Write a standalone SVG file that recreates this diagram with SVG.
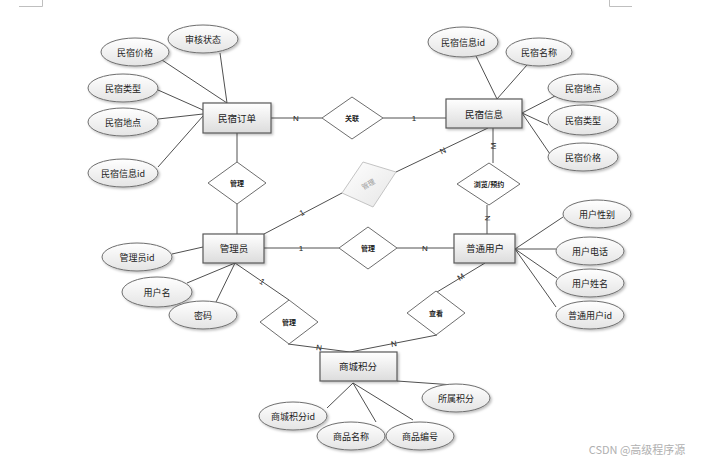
<svg xmlns="http://www.w3.org/2000/svg" width="704" height="463" viewBox="0 0 704 463">
<defs>
<linearGradient id="gE" x1="0" y1="0" x2="0" y2="1"><stop offset="0" stop-color="#ffffff"/><stop offset="1" stop-color="#e4e4e4"/></linearGradient>
<linearGradient id="gR" x1="0" y1="0" x2="0" y2="1"><stop offset="0" stop-color="#ffffff"/><stop offset="1" stop-color="#dcdcdc"/></linearGradient>
<linearGradient id="gD" x1="0" y1="0" x2="1" y2="1"><stop offset="0" stop-color="#ffffff"/><stop offset="1" stop-color="#e6e6e6"/></linearGradient>
<filter id="sh" x="-20%" y="-20%" width="150%" height="160%"><feDropShadow dx="1.5" dy="1.5" stdDeviation="0.8" flood-color="#000" flood-opacity="0.25"/></filter>
</defs>
<style>
.e{fill:url(#gE);stroke:#6e6e6e;stroke-width:1;filter:url(#sh)}
.r{fill:url(#gR);stroke:#595959;stroke-width:1.2;filter:url(#sh)}
.d{fill:#ffffff;stroke:#6e6e6e;stroke-width:1}
.l{stroke:#505050;stroke-width:1;fill:none}
text{font-family:"Noto Sans CJK SC","Liberation Sans",sans-serif;fill:#222;text-anchor:middle;dominant-baseline:central}
.t{font-size:9px}
.te{font-size:9.5px}
.td{font-size:7px;font-weight:bold}
.c{font-family:"Liberation Sans",sans-serif;font-size:8px}
.m{stroke:#bfbfbf;stroke-width:1;fill:none}
</style>
<rect width="704" height="463" fill="#ffffff"/>
<path class="m" d="M19 6.5H42.5V0M609.5 0V6.5H632"/>
<g id="connectors">
<line class="l" x1="271" y1="118" x2="322" y2="118"/>
<line class="l" x1="383" y1="118" x2="446" y2="118"/>
<line class="l" x1="237" y1="133" x2="237" y2="162"/>
<line class="l" x1="237" y1="204" x2="237" y2="234"/>
<line class="l" x1="264" y1="234" x2="342" y2="193"/>
<line class="l" x1="396" y1="172" x2="488" y2="128"/>
<line class="l" x1="264" y1="248" x2="339" y2="248"/>
<line class="l" x1="397" y1="248" x2="454" y2="248"/>
<line class="l" x1="493" y1="128" x2="493" y2="163"/>
<line class="l" x1="487" y1="205" x2="487" y2="234"/>
<line class="l" x1="235" y1="263" x2="289" y2="300"/>
<line class="l" x1="288" y1="344" x2="350" y2="352"/>
<line class="l" x1="485" y1="263" x2="437" y2="292"/>
<line class="l" x1="437" y1="335" x2="350" y2="352"/>
<line class="l" x1="220" y1="53" x2="227" y2="103"/>
<line class="l" x1="162" y1="60" x2="227" y2="103"/>
<line class="l" x1="158" y1="90" x2="203" y2="110"/>
<line class="l" x1="158" y1="119" x2="203" y2="114"/>
<line class="l" x1="158" y1="167" x2="203" y2="116"/>
<line class="l" x1="476" y1="56" x2="497" y2="99"/>
<line class="l" x1="527" y1="65" x2="497" y2="99"/>
<line class="l" x1="557" y1="95" x2="522" y2="113"/>
<line class="l" x1="548" y1="125" x2="522" y2="113"/>
<line class="l" x1="550" y1="154" x2="522" y2="113"/>
<line class="l" x1="172" y1="254" x2="203" y2="247"/>
<line class="l" x1="187" y1="283" x2="235" y2="263"/>
<line class="l" x1="216" y1="302" x2="235" y2="263"/>
<line class="l" x1="563" y1="217" x2="515" y2="249"/>
<line class="l" x1="556" y1="249" x2="515" y2="249"/>
<line class="l" x1="557" y1="278" x2="515" y2="249"/>
<line class="l" x1="556" y1="307" x2="515" y2="249"/>
<line class="l" x1="327" y1="408" x2="353" y2="383"/>
<line class="l" x1="376" y1="422" x2="353" y2="383"/>
<line class="l" x1="413" y1="420" x2="353" y2="383"/>
<line class="l" x1="397" y1="381" x2="468" y2="386"/>
<text class="c" x="296" y="118">N</text>
<text class="c" x="414" y="118">1</text>
<text class="c" x="302" y="213" transform="rotate(-28 302 213)">1</text>
<text class="c" x="443" y="151" transform="rotate(-26 443 151)">N</text>
<text class="c" x="301" y="248">1</text>
<text class="c" x="425" y="248">N</text>
<text class="c" x="493" y="146" transform="rotate(-90 493 146)">M</text>
<text class="c" x="487" y="218" transform="rotate(-90 487 218)">N</text>
<text class="c" x="262" y="282" transform="rotate(34 262 282)">1</text>
<text class="c" x="319" y="348" transform="rotate(8 319 348)">N</text>
<text class="c" x="394" y="344" transform="rotate(-10 394 344)">N</text>
<text class="c" x="461" y="277" transform="rotate(-32 461 277)">M</text>
</g>
<g id="e-order"><rect class="r" x="203" y="103" width="68" height="30"/><text class="te" x="237" y="118">民宿订单</text></g>
<g id="e-info"><rect class="r" x="446" y="99" width="76" height="29"/><text class="te" x="484" y="114">民宿信息</text></g>
<g id="e-admin"><rect class="r" x="203" y="234" width="61" height="29"/><text class="te" x="234" y="248">管理员</text></g>
<g id="e-user"><rect class="r" x="454" y="234" width="61" height="29"/><text class="te" x="485" y="248">普通用户</text></g>
<g id="e-points"><rect class="r" x="320" y="352" width="77" height="29"/><text class="te" x="358" y="366">商城积分</text></g>
<g id="r-guanlian"><path class="d" d="M322 118L352 97L383 118L352 139Z"/><text class="td" x="352" y="118">关联</text></g>
<g id="r-manage1"><path class="d" d="M208 183L237 162L266 183L237 204Z"/><text class="td" x="237" y="183">管理</text></g>
<g id="r-manage2"><path d="M342 193L363 162L396 172L373 207Z" fill="url(#gD)" stroke="#c4c4c4" stroke-width="1"/><text x="368" y="184" font-size="7px" fill="#9a9a9a" style="fill:#9a9a9a" transform="rotate(-30 368 184)">管理</text></g>
<g id="r-browse"><path class="d" d="M457 184L489 163L520 184L489 205Z"/><text class="td" x="489" y="184">浏览/预约</text></g>
<g id="r-manage3"><path class="d" d="M339 248L368 227L397 248L368 269Z"/><text class="td" x="368" y="248">管理</text></g>
<g id="r-manage4"><path class="d" d="M260 322L289 300L318 322L289 344Z"/><text class="td" x="289" y="322">管理</text></g>
<g id="r-view"><path class="d" d="M407 313L436 291L465 313L436 335Z"/><text class="td" x="436" y="313">查看</text></g>
<g id="a-shenhe"><ellipse class="e" cx="203" cy="39" rx="35" ry="14"/><text class="t" x="203" y="39">审核状态</text></g>
<g id="a-o-price"><ellipse class="e" cx="135" cy="52" rx="34" ry="14"/><text class="t" x="135" y="52">民宿价格</text></g>
<g id="a-o-type"><ellipse class="e" cx="123" cy="88" rx="35" ry="14"/><text class="t" x="123" y="88">民宿类型</text></g>
<g id="a-o-loc"><ellipse class="e" cx="123" cy="122" rx="35" ry="14"/><text class="t" x="123" y="122">民宿地点</text></g>
<g id="a-o-id"><ellipse class="e" cx="123" cy="173" rx="35" ry="14"/><text class="t" x="123" y="173">民宿信息id</text></g>
<g id="a-i-id"><ellipse class="e" cx="463" cy="42" rx="35" ry="15"/><text class="t" x="463" y="42">民宿信息id</text></g>
<g id="a-i-name"><ellipse class="e" cx="539" cy="52" rx="33" ry="14"/><text class="t" x="539" y="52">民宿名称</text></g>
<g id="a-i-loc"><ellipse class="e" cx="583" cy="88" rx="35" ry="14"/><text class="t" x="583" y="88">民宿地点</text></g>
<g id="a-i-type"><ellipse class="e" cx="583" cy="120" rx="35" ry="15"/><text class="t" x="583" y="120">民宿类型</text></g>
<g id="a-i-price"><ellipse class="e" cx="583" cy="157" rx="35" ry="14"/><text class="t" x="583" y="157">民宿价格</text></g>
<g id="a-adminid"><ellipse class="e" cx="137" cy="257" rx="35" ry="14"/><text class="t" x="137" y="257">管理员id</text></g>
<g id="a-username"><ellipse class="e" cx="157" cy="292" rx="35" ry="15"/><text class="t" x="157" y="292">用户名</text></g>
<g id="a-pwd"><ellipse class="e" cx="203" cy="315" rx="34" ry="14"/><text class="t" x="203" y="315">密码</text></g>
<g id="a-gender"><ellipse class="e" cx="597" cy="214" rx="34" ry="14"/><text class="t" x="597" y="214">用户性别</text></g>
<g id="a-phone"><ellipse class="e" cx="590" cy="251" rx="34" ry="14"/><text class="t" x="590" y="251">用户电话</text></g>
<g id="a-uname"><ellipse class="e" cx="590" cy="283" rx="34" ry="14"/><text class="t" x="590" y="283">用户姓名</text></g>
<g id="a-uid"><ellipse class="e" cx="590" cy="315" rx="34" ry="14"/><text class="t" x="590" y="315">普通用户id</text></g>
<g id="a-belong"><ellipse class="e" cx="456" cy="398" rx="34" ry="14"/><text class="t" x="456" y="398">所属积分</text></g>
<g id="a-pid"><ellipse class="e" cx="293" cy="416" rx="34" ry="14"/><text class="t" x="293" y="416">商城积分id</text></g>
<g id="a-gname"><ellipse class="e" cx="351" cy="436" rx="34" ry="14"/><text class="t" x="351" y="436">商品名称</text></g>
<g id="a-gno"><ellipse class="e" cx="420" cy="436" rx="34" ry="14"/><text class="t" x="420" y="436">商品编号</text></g>
<text x="637" y="449" font-size="11px" style="fill:#b0b0b0">CSDN @高级程序源</text>
</svg>
